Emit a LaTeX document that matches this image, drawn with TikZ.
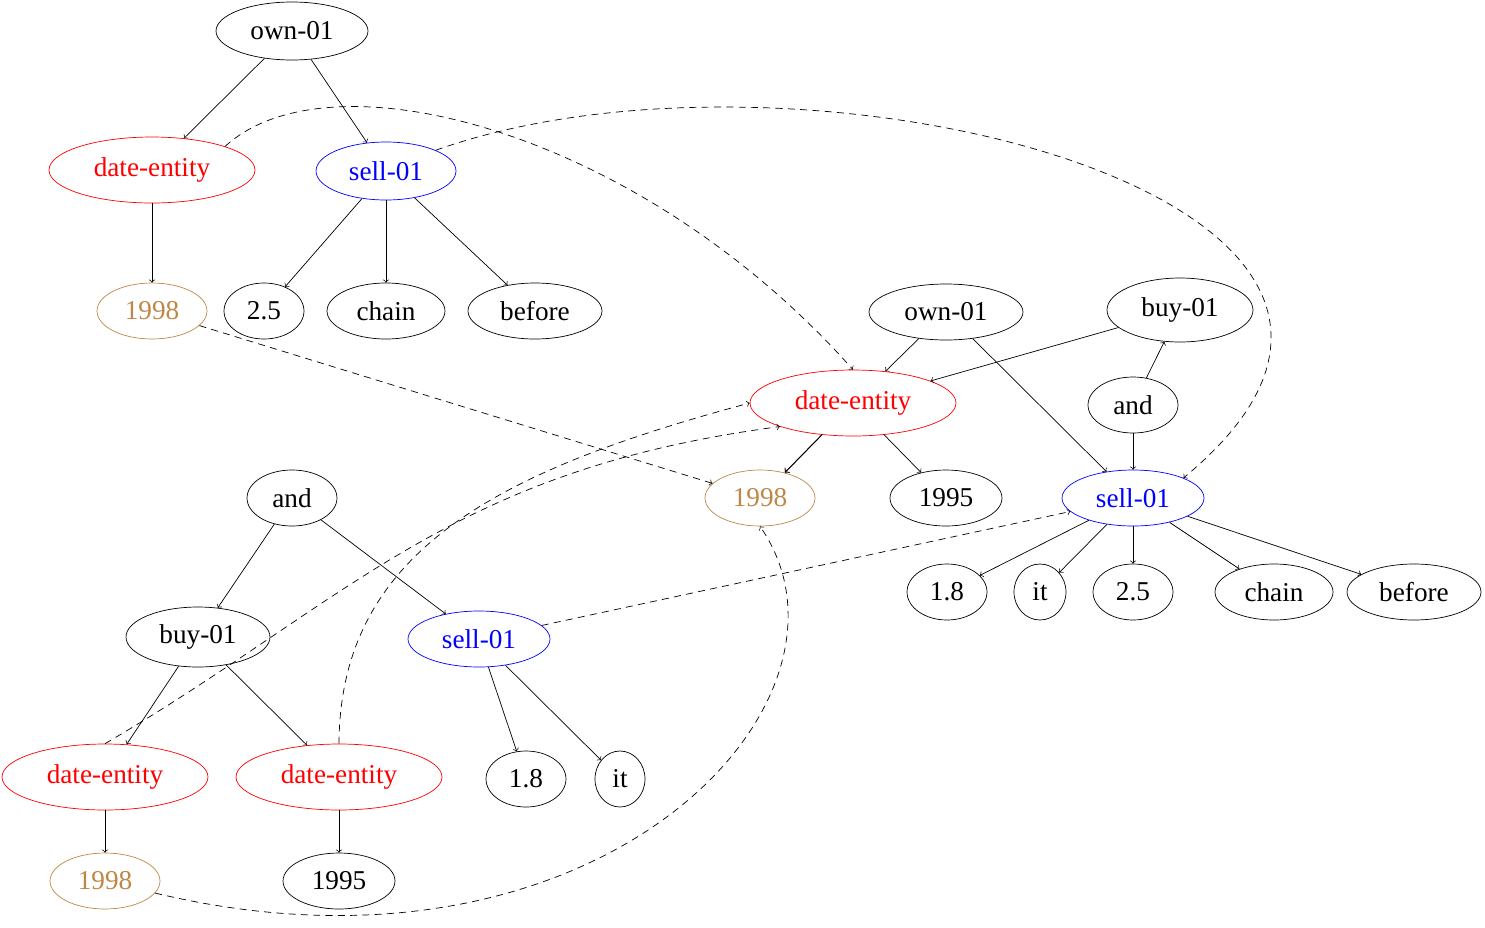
\documentclass[tikz,border=0pt]{standalone}
\usepackage{fontspec}
\setmainfont{Liberation Serif}
\usetikzlibrary{shapes.geometric}
\definecolor{brn}{RGB}{190,135,70}
\begin{document}
\begin{tikzpicture}[x=0.02cm,y=-0.02cm,
 n/.style={ellipse,draw,inner sep=0pt,font=\fontsize{15.5}{18}\selectfont},
 e/.style={->,>=to},
 d/.style={->,>=to,dash pattern=on 4pt off 3pt},
 red/.style={text=red,draw=red},
 blu/.style={text=blue,draw=blue},
 br/.style={text=brn,draw=brn}]
\useasboundingbox (0,0) rectangle (1485,927);
\node[n,minimum width=3.04cm,minimum height=1.16cm] (own1) at (292,31) {own-01};
\node[n,red,minimum width=4.12cm,minimum height=1.32cm] (de1) at (152,170) {date-entity};
\node[n,blu,minimum width=2.8cm,minimum height=1.16cm] (sell1) at (386,171) {sell-01};
\node[n,br,minimum width=2.2cm,minimum height=1.12cm] (y1) at (152,311) {1998};
\node[n,minimum width=1.6cm,minimum height=1.12cm] (a25) at (264,311) {2.5};
\node[n,minimum width=2.36cm,minimum height=1.12cm] (ch1) at (386,311) {chain};
\node[n,minimum width=2.68cm,minimum height=1.12cm] (bf1) at (535,311) {before};
\node[n,minimum width=3.08cm,minimum height=1.12cm] (own2) at (946,312) {own-01};
\node[n,minimum width=2.92cm,minimum height=1.28cm] (buy2) at (1180,310) {buy-01};
\node[n,red,minimum width=4.12cm,minimum height=1.32cm] (de2) at (853,403) {date-entity};
\node[n,minimum width=1.8cm,minimum height=1.12cm] (and2) at (1133,405) {and};
\node[n,br,minimum width=2.2cm,minimum height=1.12cm] (y2) at (760,498) {1998};
\node[n,minimum width=2.24cm,minimum height=1.12cm] (f2) at (946,498) {1995};
\node[n,blu,minimum width=2.84cm,minimum height=1.12cm] (sell2) at (1133,498) {sell-01};
\node[n,minimum width=1.6cm,minimum height=1.12cm] (o2) at (947,592) {1.8};
\node[n,minimum width=1.04cm,minimum height=1.12cm] (it2) at (1040,592) {it};
\node[n,minimum width=1.6cm,minimum height=1.12cm] (t2) at (1133,592) {2.5};
\node[n,minimum width=2.36cm,minimum height=1.12cm] (ch2) at (1274,592) {chain};
\node[n,minimum width=2.68cm,minimum height=1.12cm] (bf2) at (1414,592) {before};
\node[n,minimum width=1.8cm,minimum height=1.12cm] (and3) at (292,498) {and};
\node[n,minimum width=2.88cm,minimum height=1.2cm] (buy3) at (198,637) {buy-01};
\node[n,blu,minimum width=2.84cm,minimum height=1.12cm] (sell3) at (479,639) {sell-01};
\node[n,red,minimum width=4.12cm,minimum height=1.32cm] (de3) at (105,777) {date-entity};
\node[n,red,minimum width=4.12cm,minimum height=1.32cm] (de4) at (339,777) {date-entity};
\node[n,minimum width=1.6cm,minimum height=1.12cm] (o3) at (526,779) {1.8};
\node[n,minimum width=1.0cm,minimum height=1.12cm] (it3) at (620,779) {it};
\node[n,br,minimum width=2.2cm,minimum height=1.12cm] (y3) at (105,881) {1998};
\node[n,minimum width=2.24cm,minimum height=1.12cm] (f3) at (339,881) {1995};
% solid
\draw[e] (own1) -- (de1);
\draw[e] (own1) -- (sell1);
\draw[e] (de1) -- (y1);
\draw[e] (sell1) -- (a25);
\draw[e] (sell1) -- (ch1);
\draw[e] (sell1) -- (bf1);
\draw[e] (own2) -- (de2);
\draw[e] (own2) -- (sell2);
\draw[e] (buy2) -- (de2);
\draw[e] (and2) -- (buy2);
\draw[e] (and2) -- (sell2);
\draw[e,semithick] (de2) -- (y2);
\draw[e] (de2) -- (f2);
\draw[e] (sell2) -- (o2);
\draw[e] (sell2) -- (it2);
\draw[e] (sell2) -- (t2);
\draw[e] (sell2) -- (ch2);
\draw[e] (sell2) -- (bf2);
\draw[e] (and3) -- (buy3);
\draw[e] (and3) -- (sell3);
\draw[e] (buy3) -- (de3);
\draw[e] (buy3) -- (de4);
\draw[e] (sell3) -- (o3);
\draw[e] (sell3) -- (it3);
\draw[e] (de3) -- (y3);
\draw[e] (de4) -- (f3);
% dashed
\draw[d] (de1.north east) .. controls (330,50) and (640,130) .. (de2.north);
\draw[d] (sell1.north east) .. controls (800,20) and (1520,200) .. (sell2.north east);
\draw[d] (y1) -- (y2);
\draw[d] (sell3) -- (sell2);
\draw[d] (de3.north) .. controls (350,600) and (450,470) .. (de2.south west);
\draw[d] (de4.north) .. controls (340,550) and (500,470) .. (de2.west);
\draw[d] (y3) .. controls (600,1000) and (880,700) .. (y2.south);
\end{tikzpicture}
\end{document}
